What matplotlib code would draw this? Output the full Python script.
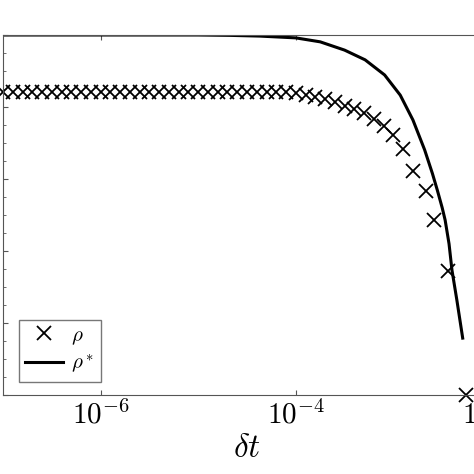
import numpy as np
import matplotlib
matplotlib.use("Agg")
import matplotlib.pyplot as plt

plt.rcParams['mathtext.fontset'] = 'cm'
plt.rcParams['font.family'] = 'serif'
plt.rcParams['font.serif'] = ['DejaVu Serif']

# rho (crosses): log10(dt) and value
rho_exp = [-7.0 + 0.1 * i for i in range(43)] + [-2.67, -2.58, -2.44, -2.26]
rho_val = [0.842] * 30 + [0.839, 0.834, 0.829, 0.821, 0.813, 0.804, 0.794, 0.783,
                          0.767, 0.748, 0.722, 0.683, 0.622,
                          0.567, 0.486, 0.344, 0.0]

# rho* (line)
line_exp = [-7.0, -5.0, -4.68, -4.37, -4.0, -3.75, -3.5, -3.29, -3.09, -2.93, -2.80,
            -2.68, -2.6, -2.55, -2.5, -2.47, -2.43, -2.40, -2.35, -2.29]
line_val = [1.0, 1.0, 0.999, 0.997, 0.992, 0.981, 0.958, 0.931, 0.889, 0.833, 0.764,
            0.681, 0.615, 0.569, 0.52, 0.486, 0.42, 0.347, 0.264, 0.158]

fig = plt.figure(figsize=(4.74, 4.74), dpi=100)
ax = fig.add_axes([3 / 474, 79 / 474, 488 / 474, 360 / 474])
ax.plot(10.0 ** np.array(rho_exp), rho_val, 'x', color='black', ms=10, mew=1.3,
        label=r'$\rho$', clip_on=False)
ax.plot(10.0 ** np.array(line_exp), line_val, '-', color='black', lw=2.2,
        label=r'$\rho^*$')
ax.set_xscale('log')
ax.set_xlim(1e-7, 1e-2)
ax.set_ylim(0, 1)
ax.set_xticks([1e-6, 1e-4, 1e-2])
ax.set_xticklabels([r'$10^{-6}$', r'$10^{-4}$', r'$10^{-2}$'])
ax.set_yticklabels([])
ax.tick_params(which='both', direction='in', top=True, right=True, labelsize=21,
               color='#555555')
ax.minorticks_on()
ax.set_xlabel(r'$\delta t$', fontsize=24, labelpad=2)
for s in ax.spines.values():
    s.set_color('#555555')
ax.legend(loc='lower left', fontsize=15, frameon=True, fancybox=False,
          edgecolor='#555555', borderaxespad=0.3, handlelength=1.8,
          handletextpad=0.4, borderpad=0.3, labelspacing=0.3,
          bbox_to_anchor=(0.02, 0.02))
fig.savefig('out.png', dpi=100)
